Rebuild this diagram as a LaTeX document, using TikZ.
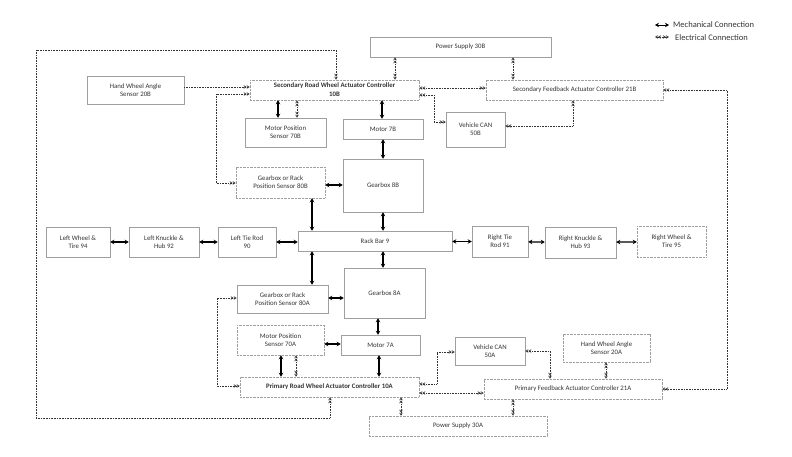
\documentclass[tikz,border=0pt]{standalone}
\usepackage{fontspec}
\setmainfont{Carlito}
\usetikzlibrary{arrows.meta,calc}
\newcommand\bx[7][]{%
 \node[box,#1,minimum width={(#4-#2)*1pt},minimum height={(#5-#3)*1pt}] (#6) at ({(#2+#4)/2},{(#3+#5)/2}) {#7};}
\begin{document}
\begin{tikzpicture}[x=1pt,y=-1pt,
 box/.style={draw=gray!75,line width=0.5pt,inner sep=1pt,align=center,font=\fontsize{6.8}{8}\selectfont,text=black!80},
 dot/.style={dash pattern=on 0.8pt off 0.6pt},
 mech/.style={line width=1.3pt,{Stealth[length=4pt,width=4.5pt]}-{Stealth[length=4pt,width=4.5pt]}},
 elec/.style={line width=0.6pt,dash pattern=on 0.8pt off 0.8pt,black!80,
   {Stealth[open,length=3pt,width=3.5pt]Stealth[open,length=3pt,width=3.5pt]}-{Stealth[open,length=3pt,width=3.5pt]Stealth[open,length=3pt,width=3.5pt]}},
 eone/.style={line width=0.6pt,dash pattern=on 0.8pt off 0.8pt,black!80,
   -{Stealth[open,length=3pt,width=3.5pt]Stealth[open,length=3pt,width=3.5pt]}}]
\useasboundingbox (0,0) rectangle (792,456);
% legend
\coordinate (l1a) at (655,25); \coordinate (l1b) at (669,25);
\coordinate (l2a) at (655,37); \coordinate (l2b) at (669,37);
\draw[mech,line width=1pt] (l1a) -- (l1b);
\draw[elec] (l2a) -- (l2b);
\node[anchor=west,font=\fontsize{8.5}{10}\selectfont,text=black!80,inner sep=0] (lt1) at (673,25) {Mechanical Connection};
\node[anchor=west,font=\fontsize{8.5}{10}\selectfont,text=black!80,inner sep=0] (lt2) at (675,38) {Electrical Connection};
% boxes
\bx{370}{37}{551}{57}{ps30b}{Power Supply 30B}
\bx{87}{76}{184}{104}{hw20b}{Hand Wheel Angle\\Sensor 20B}
\bx[dot,font=\fontsize{6.8}{9}\selectfont\bfseries]{250}{80}{419}{100}{c10b}{Secondary Road Wheel Actuator Controller\\10B}
\bx[dot]{486}{80}{663}{100}{f21b}{Secondary Feedback Actuator Controller 21B}
\bx{245}{118}{326}{147}{m70b}{Motor Position\\Sensor 70B}
\bx{343}{119}{423}{139}{m7b}{Motor 7B}
\bx{446}{112}{505}{147}{can50b}{Vehicle CAN\\50B}
\bx[dot]{236}{167}{325}{198}{s80b}{Gearbox or Rack\\Position Sensor 80B}
\bx{343}{159}{423}{212}{g8b}{Gearbox 8B}
\bx{46}{227}{110}{257}{lw94}{Left Wheel \&\\Tire 94}
\bx{129}{227}{199}{257}{lk92}{Left Knuckle \&\\Hub 92}
\bx{218}{227}{276}{257}{lt90}{Left Tie Rod\\90}
\bx{298}{231}{452}{251}{rb9}{Rack Bar 9}
\bx{472}{226}{528}{257}{rt91}{Right Tie\\Rod 91}
\bx{545}{227}{616}{258}{rk93}{Right Knuckle \&\\Hub 93}
\bx[dot]{637}{226}{706}{257}{rw95}{Right Wheel \&\\Tire 95}
\bx{344}{268}{425}{318}{g8a}{Gearbox 8A}
\bx{237}{285}{328}{313}{s80a}{Gearbox or Rack\\Position Sensor 80A}
\bx[dot]{237}{325}{324}{355}{m70a}{Motor Position\\Sensor 70A}
\bx{341}{335}{420}{355}{m7a}{Motor 7A}
\bx{455}{337}{525}{365}{can50a}{Vehicle CAN\\50A}
\bx[dot]{563}{334}{650}{362}{hw20a}{Hand Wheel Angle\\Sensor 20A}
\bx[dot,font=\fontsize{6.8}{8}\selectfont\bfseries]{240}{377}{419}{397}{c10a}{Primary Road Wheel Actuator Controller 10A}
\bx[dot]{484}{379}{662}{399}{f21a}{Primary Feedback Actuator Controller 21A}
\bx[dot]{369}{416}{547}{436}{ps30a}{Power Supply 30A}
% mechanical
\draw[mech] (c10b.south -| 278,0) -- (m70b.north -| 278,0);
\draw[mech] (c10b.south -| 382,0) -- (m7b.north -| 382,0);
\draw[mech] (m7b.south -| 383,0) -- (g8b.north -| 383,0);
\draw[mech] (s80b.east |- 0,185) -- (g8b.west |- 0,185);
\draw[mech] (s80b.south -| 312,0) -- (rb9.north -| 312,0);
\draw[mech] (g8b.south -| 383,0) -- (rb9.north -| 383,0);
\draw[mech] (rb9.south -| 312,0) -- (s80a.north -| 312,0);
\draw[mech] (rb9.south -| 383,0) -- (g8a.north -| 383,0);
\draw[mech] (s80a.east |- 0,298) -- (g8a.west |- 0,298);
\draw[mech] (g8a.south -| 378,0) -- (m7a.north -| 378,0);
\draw[mech] (m70a.east |- 0,344) -- (m7a.west |- 0,344);
\draw[mech] (m70a.south -| 281,0) -- (c10a.north -| 281,0);
\draw[mech] (m7a.south -| 379,0) -- (c10a.north -| 379,0);
\draw[mech] (lw94) -- (lk92);
\draw[mech] (lk92) -- (lt90);
\draw[mech] (lt90) -- (rb9.west |- lt90);
\draw[mech] (rb9.east |- rt91) -- (rt91);
\draw[mech] (rt91) -- (rk93);
\draw[mech] (rk93) -- (rw95);
% electrical
\draw[eone] (hw20b.east |- 0,87) -- (c10b.west |- 0,87);
\draw[elec] (c10b.south -| 297,0) -- (m70b.north -| 297,0);
\draw[elec] (ps30b.south -| 395,0) -- (c10b.north -| 395,0);
\draw[elec] (ps30b.south -| 513,0) -- (f21b.north -| 513,0);
\draw[elec] (c10b.east |- 0,88) -- (f21b.west |- 0,88);
\draw[elec] (c10b.east |- 0,95) -| (434,122) -- (can50b.west |- 0,122);
\draw[elec] (f21b.south -| 573,0) |- (can50b.east |- 0,126);
\draw[elec] (c10b.north -| 336,0) |- (36,50) |- (330,418) -- (c10a.south -| 330,0);
\draw[elec] (c10b.west |- 0,94) -| (216,183) -- (s80b.west |- 0,183);
\draw[elec] (s80a.west |- 0,298) -| (217,386) -- (c10a.west |- 0,386);
\draw[elec] (f21b.east |- 0,90) -| (727,389) -- (f21a.east |- 0,389);
\draw[elec] (c10a.east |- 0,384) -| (437,352) -- (can50a.west |- 0,352);
\draw[elec] (can50a.east |- 0,351) -| (f21a.north -| 550,0);
\draw[elec] (c10a.east |- 0,393) -- (f21a.west |- 0,393);
\draw[elec] (hw20a.south -| 606,0) -- (f21a.north -| 606,0);
\draw[elec] (c10a.south -| 401,0) -- (ps30a.north -| 401,0);
\draw[elec] (f21a.south -| 513,0) -- (ps30a.north -| 513,0);
\draw[elec] (m70a.south -| 296,0) -- (c10a.north -| 296,0);
\end{tikzpicture}
\end{document}
